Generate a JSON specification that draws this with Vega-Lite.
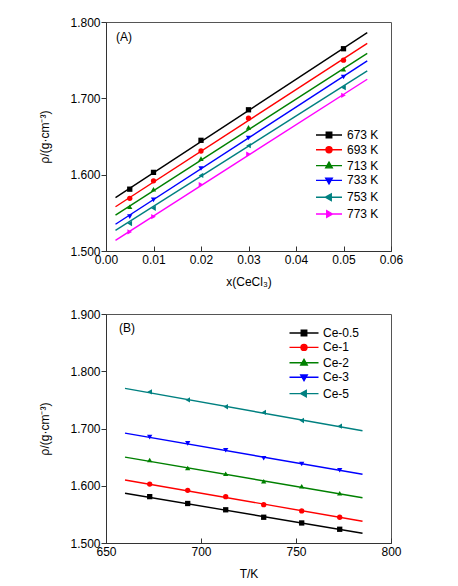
{
  "$schema": "https://vega.github.io/schema/vega-lite/v6.json",
  "background": "white",
  "padding": {"left": 38, "top": 15, "right": 10, "bottom": 5},
  "spacing": 19,
  "datasets": {
    "a_pts": [
      {"series": "673 K", "x": 0.005, "rho": 1.581}, {"series": "673 K", "x": 0.01, "rho": 1.603}, {"series": "673 K", "x": 0.02, "rho": 1.645}, {"series": "673 K", "x": 0.03, "rho": 1.685}, {"series": "673 K", "x": 0.05, "rho": 1.765},
      {"series": "693 K", "x": 0.005, "rho": 1.569}, {"series": "693 K", "x": 0.01, "rho": 1.592}, {"series": "693 K", "x": 0.02, "rho": 1.631}, {"series": "693 K", "x": 0.03, "rho": 1.674}, {"series": "693 K", "x": 0.05, "rho": 1.750},
      {"series": "713 K", "x": 0.005, "rho": 1.558}, {"series": "713 K", "x": 0.01, "rho": 1.581}, {"series": "713 K", "x": 0.02, "rho": 1.621}, {"series": "713 K", "x": 0.03, "rho": 1.662}, {"series": "713 K", "x": 0.05, "rho": 1.738},
      {"series": "733 K", "x": 0.005, "rho": 1.545}, {"series": "733 K", "x": 0.01, "rho": 1.567}, {"series": "733 K", "x": 0.02, "rho": 1.608}, {"series": "733 K", "x": 0.03, "rho": 1.648}, {"series": "733 K", "x": 0.05, "rho": 1.728},
      {"series": "753 K", "x": 0.005, "rho": 1.536}, {"series": "753 K", "x": 0.01, "rho": 1.556}, {"series": "753 K", "x": 0.02, "rho": 1.599}, {"series": "753 K", "x": 0.03, "rho": 1.638}, {"series": "753 K", "x": 0.05, "rho": 1.714},
      {"series": "773 K", "x": 0.005, "rho": 1.525}, {"series": "773 K", "x": 0.01, "rho": 1.545}, {"series": "773 K", "x": 0.02, "rho": 1.587}, {"series": "773 K", "x": 0.03, "rho": 1.627}, {"series": "773 K", "x": 0.05, "rho": 1.704}
    ],
    "a_fit": [
      {"series": "673 K", "x": 0.002, "rho": 1.570}, {"series": "673 K", "x": 0.055, "rho": 1.786},
      {"series": "693 K", "x": 0.002, "rho": 1.558}, {"series": "693 K", "x": 0.055, "rho": 1.772},
      {"series": "713 K", "x": 0.002, "rho": 1.547}, {"series": "713 K", "x": 0.055, "rho": 1.759},
      {"series": "733 K", "x": 0.002, "rho": 1.535}, {"series": "733 K", "x": 0.055, "rho": 1.749},
      {"series": "753 K", "x": 0.002, "rho": 1.527}, {"series": "753 K", "x": 0.055, "rho": 1.736},
      {"series": "773 K", "x": 0.002, "rho": 1.514}, {"series": "773 K", "x": 0.055, "rho": 1.725}
    ],
    "b_pts": [
      {"series": "Ce-0.5", "T": 673, "rho": 1.581}, {"series": "Ce-0.5", "T": 693, "rho": 1.569}, {"series": "Ce-0.5", "T": 713, "rho": 1.558}, {"series": "Ce-0.5", "T": 733, "rho": 1.545}, {"series": "Ce-0.5", "T": 753, "rho": 1.535}, {"series": "Ce-0.5", "T": 773, "rho": 1.524},
      {"series": "Ce-1", "T": 673, "rho": 1.603}, {"series": "Ce-1", "T": 693, "rho": 1.592}, {"series": "Ce-1", "T": 713, "rho": 1.581}, {"series": "Ce-1", "T": 733, "rho": 1.567}, {"series": "Ce-1", "T": 753, "rho": 1.556}, {"series": "Ce-1", "T": 773, "rho": 1.545},
      {"series": "Ce-2", "T": 673, "rho": 1.645}, {"series": "Ce-2", "T": 693, "rho": 1.631}, {"series": "Ce-2", "T": 713, "rho": 1.621}, {"series": "Ce-2", "T": 733, "rho": 1.608}, {"series": "Ce-2", "T": 753, "rho": 1.599}, {"series": "Ce-2", "T": 773, "rho": 1.587},
      {"series": "Ce-3", "T": 673, "rho": 1.685}, {"series": "Ce-3", "T": 693, "rho": 1.674}, {"series": "Ce-3", "T": 713, "rho": 1.662}, {"series": "Ce-3", "T": 733, "rho": 1.648}, {"series": "Ce-3", "T": 753, "rho": 1.638}, {"series": "Ce-3", "T": 773, "rho": 1.627},
      {"series": "Ce-5", "T": 673, "rho": 1.764}, {"series": "Ce-5", "T": 693, "rho": 1.750}, {"series": "Ce-5", "T": 713, "rho": 1.738}, {"series": "Ce-5", "T": 733, "rho": 1.728}, {"series": "Ce-5", "T": 753, "rho": 1.714}, {"series": "Ce-5", "T": 773, "rho": 1.704}
    ],
    "b_fit": [
      {"series": "Ce-0.5", "T": 660, "rho": 1.587}, {"series": "Ce-0.5", "T": 785, "rho": 1.517},
      {"series": "Ce-1", "T": 660, "rho": 1.610}, {"series": "Ce-1", "T": 785, "rho": 1.538},
      {"series": "Ce-2", "T": 660, "rho": 1.650}, {"series": "Ce-2", "T": 785, "rho": 1.579},
      {"series": "Ce-3", "T": 660, "rho": 1.692}, {"series": "Ce-3", "T": 785, "rho": 1.620},
      {"series": "Ce-5", "T": 660, "rho": 1.770}, {"series": "Ce-5", "T": 785, "rho": 1.696}
    ]
  },
  "resolve": {"scale": {"color": "independent", "shape": "independent"}, "legend": {"color": "independent", "shape": "independent"}},
  "vconcat": [
    {
      "width": 285,
      "height": 229,
      "layer": [
        {
          "data": {"name": "a_fit"},
          "mark": {"type": "line", "strokeWidth": 1.4},
          "encoding": {
            "x": {"field": "x", "type": "quantitative", "scale": {"domain": [0, 0.06], "nice": false, "zero": false}, "axis": {"values": [0, 0.01, 0.02, 0.03, 0.04, 0.05, 0.06], "format": ".2f", "title": "x(CeCl₃)"}},
            "y": {"field": "rho", "type": "quantitative", "scale": {"domain": [1.5, 1.8], "nice": false, "zero": false}, "axis": {"values": [1.5, 1.6, 1.7, 1.8], "format": ".3f", "title": "ρ/(g·cm⁻³)"}},
            "color": {"field": "series", "type": "nominal", "scale": {"domain": ["673 K", "693 K", "713 K", "733 K", "753 K", "773 K"], "range": ["#000000", "#ff0000", "#008000", "#0000ff", "#008080", "#ff00ff"]},
              "legend": {"title": null, "orient": "none", "legendX": 217, "legendY": 107, "padding": 0, "symbolSize": 100, "labelOffset": 12, "rowPadding": 2.8,
                "encode": {"symbols": {"update": {
                  "shape": {"signal": "['M-2.6,0H2.6M-0.55,-0.55H0.55V0.55H-0.55Z','M-2.6,0H2.6M-0.6,0A0.6,0.6,0,1,1,0.6,0A0.6,0.6,0,1,1,-0.6,0Z','M-2.6,0H2.6M0,-0.7L0.65,0.45H-0.65Z','M-2.6,0H2.6M0,0.7L0.65,-0.45H-0.65Z','M-2.6,0H2.6M-0.7,0L0.45,-0.65V0.65Z','M-2.6,0H2.6M0.7,0L-0.45,-0.65V0.65Z'][indexof(['673 K','693 K','713 K','733 K','753 K','773 K'], datum.value)]"},
                  "fill": {"signal": "['#000000','#ff0000','#008000','#0000ff','#008080','#ff00ff'][indexof(['673 K','693 K','713 K','733 K','753 K','773 K'], datum.value)]"},
                  "stroke": {"signal": "['#000000','#ff0000','#008000','#0000ff','#008080','#ff00ff'][indexof(['673 K','693 K','713 K','733 K','753 K','773 K'], datum.value)]"},
                  "strokeWidth": {"value": 1.4},
                  "opacity": {"value": 1}
                }}}}
            }
          }
        },
        {
          "data": {"name": "a_pts"},
          "mark": {"type": "point", "filled": true, "size": 28, "opacity": 1},
          "encoding": {
            "x": {"field": "x", "type": "quantitative"},
            "y": {"field": "rho", "type": "quantitative"},
            "color": {"field": "series", "type": "nominal", "scale": {"domain": ["673 K", "693 K", "713 K", "733 K", "753 K", "773 K"], "range": ["#000000", "#ff0000", "#008000", "#0000ff", "#008080", "#ff00ff"]},
              "legend": {"title": null, "orient": "none", "legendX": 217, "legendY": 107, "padding": 0, "symbolSize": 100, "labelOffset": 12, "rowPadding": 2.8,
                "encode": {"symbols": {"update": {
                  "shape": {"signal": "['M-2.6,0H2.6M-0.55,-0.55H0.55V0.55H-0.55Z','M-2.6,0H2.6M-0.6,0A0.6,0.6,0,1,1,0.6,0A0.6,0.6,0,1,1,-0.6,0Z','M-2.6,0H2.6M0,-0.7L0.65,0.45H-0.65Z','M-2.6,0H2.6M0,0.7L0.65,-0.45H-0.65Z','M-2.6,0H2.6M-0.7,0L0.45,-0.65V0.65Z','M-2.6,0H2.6M0.7,0L-0.45,-0.65V0.65Z'][indexof(['673 K','693 K','713 K','733 K','753 K','773 K'], datum.value)]"},
                  "fill": {"signal": "['#000000','#ff0000','#008000','#0000ff','#008080','#ff00ff'][indexof(['673 K','693 K','713 K','733 K','753 K','773 K'], datum.value)]"},
                  "stroke": {"signal": "['#000000','#ff0000','#008000','#0000ff','#008080','#ff00ff'][indexof(['673 K','693 K','713 K','733 K','753 K','773 K'], datum.value)]"},
                  "strokeWidth": {"value": 1.4},
                  "opacity": {"value": 1}
                }}}}
            },
            "shape": {"field": "series", "type": "nominal", "scale": {"range": ["square", "circle", "triangle-up", "triangle-down", "triangle-left", "triangle-right"]}, "legend": null}
          }
        },
        {
          "data": {"values": [{"label": "(A)", "x": 0.0038, "rho": 1.78}]},
          "mark": {"type": "text", "fontSize": 12, "font": "Liberation Sans", "color": "#000"},
          "encoding": {
            "x": {"field": "x", "type": "quantitative"},
            "y": {"field": "rho", "type": "quantitative"},
            "text": {"field": "label"}
          }
        }
      ]
    },
    {
      "width": 285,
      "height": 229,
      "layer": [
        {
          "data": {"name": "b_fit"},
          "mark": {"type": "line", "strokeWidth": 1.4},
          "encoding": {
            "x": {"field": "T", "type": "quantitative", "scale": {"domain": [650, 800], "nice": false, "zero": false}, "axis": {"values": [650, 700, 750, 800], "title": "T/K"}},
            "y": {"field": "rho", "type": "quantitative", "scale": {"domain": [1.5, 1.9], "nice": false, "zero": false}, "axis": {"values": [1.5, 1.6, 1.7, 1.8, 1.9], "format": ".3f", "title": "ρ/(g·cm⁻³)"}},
            "color": {"field": "series", "type": "nominal", "scale": {"domain": ["Ce-0.5", "Ce-1", "Ce-2", "Ce-3", "Ce-5"], "range": ["#000000", "#ff0000", "#008000", "#0000ff", "#008080"]},
              "legend": {"title": null, "orient": "none", "legendX": 192, "legendY": 13, "padding": 0, "symbolSize": 100, "labelOffset": 13, "rowPadding": 2.4,
                "encode": {"symbols": {"update": {
                  "shape": {"signal": "['M-2.9,0H2.9M-0.55,-0.55H0.55V0.55H-0.55Z','M-2.9,0H2.9M-0.6,0A0.6,0.6,0,1,1,0.6,0A0.6,0.6,0,1,1,-0.6,0Z','M-2.9,0H2.9M0,-0.7L0.65,0.45H-0.65Z','M-2.9,0H2.9M0,0.7L0.65,-0.45H-0.65Z','M-2.9,0H2.9M-0.7,0L0.45,-0.65V0.65Z'][indexof(['Ce-0.5','Ce-1','Ce-2','Ce-3','Ce-5'], datum.value)]"},
                  "fill": {"signal": "['#000000','#ff0000','#008000','#0000ff','#008080'][indexof(['Ce-0.5','Ce-1','Ce-2','Ce-3','Ce-5'], datum.value)]"},
                  "stroke": {"signal": "['#000000','#ff0000','#008000','#0000ff','#008080'][indexof(['Ce-0.5','Ce-1','Ce-2','Ce-3','Ce-5'], datum.value)]"},
                  "strokeWidth": {"value": 1.4},
                  "opacity": {"value": 1}
                }}}}
            }
          }
        },
        {
          "data": {"name": "b_pts"},
          "mark": {"type": "point", "filled": true, "size": 28, "opacity": 1},
          "encoding": {
            "x": {"field": "T", "type": "quantitative"},
            "y": {"field": "rho", "type": "quantitative"},
            "color": {"field": "series", "type": "nominal", "scale": {"domain": ["Ce-0.5", "Ce-1", "Ce-2", "Ce-3", "Ce-5"], "range": ["#000000", "#ff0000", "#008000", "#0000ff", "#008080"]},
              "legend": {"title": null, "orient": "none", "legendX": 192, "legendY": 13, "padding": 0, "symbolSize": 100, "labelOffset": 13, "rowPadding": 2.4,
                "encode": {"symbols": {"update": {
                  "shape": {"signal": "['M-2.9,0H2.9M-0.55,-0.55H0.55V0.55H-0.55Z','M-2.9,0H2.9M-0.6,0A0.6,0.6,0,1,1,0.6,0A0.6,0.6,0,1,1,-0.6,0Z','M-2.9,0H2.9M0,-0.7L0.65,0.45H-0.65Z','M-2.9,0H2.9M0,0.7L0.65,-0.45H-0.65Z','M-2.9,0H2.9M-0.7,0L0.45,-0.65V0.65Z'][indexof(['Ce-0.5','Ce-1','Ce-2','Ce-3','Ce-5'], datum.value)]"},
                  "fill": {"signal": "['#000000','#ff0000','#008000','#0000ff','#008080'][indexof(['Ce-0.5','Ce-1','Ce-2','Ce-3','Ce-5'], datum.value)]"},
                  "stroke": {"signal": "['#000000','#ff0000','#008000','#0000ff','#008080'][indexof(['Ce-0.5','Ce-1','Ce-2','Ce-3','Ce-5'], datum.value)]"},
                  "strokeWidth": {"value": 1.4},
                  "opacity": {"value": 1}
                }}}}
            },
            "shape": {"field": "series", "type": "nominal", "scale": {"range": ["square", "circle", "triangle-up", "triangle-down", "triangle-left"]}, "legend": null}
          }
        },
        {
          "data": {"values": [{"label": "(B)", "T": 661, "rho": 1.875}]},
          "mark": {"type": "text", "fontSize": 12, "font": "Liberation Sans", "color": "#000"},
          "encoding": {
            "x": {"field": "T", "type": "quantitative"},
            "y": {"field": "rho", "type": "quantitative"},
            "text": {"field": "label"}
          }
        }
      ]
    }
  ],
  "config": {
    "font": "Liberation Sans",
    "view": {"stroke": "#555555", "strokeWidth": 1},
    "axis": {"grid": false, "domainColor": "#333333", "tickColor": "#333333", "labelColor": "#000000", "titleColor": "#000000", "labelFont": "Liberation Sans", "titleFont": "Liberation Sans", "labelFontSize": 12, "titleFontSize": 12, "titleFontWeight": "normal", "labelFlush": false, "labelOverlap": false},
    "axisX": {"tickSize": -5, "labelPadding": 8, "titlePadding": 11},
    "axisY": {"tickSize": 5, "labelPadding": 1, "titlePadding": 18},
    "legend": {"labelFont": "Liberation Sans", "labelFontSize": 12, "labelColor": "#000000"}
  }
}
